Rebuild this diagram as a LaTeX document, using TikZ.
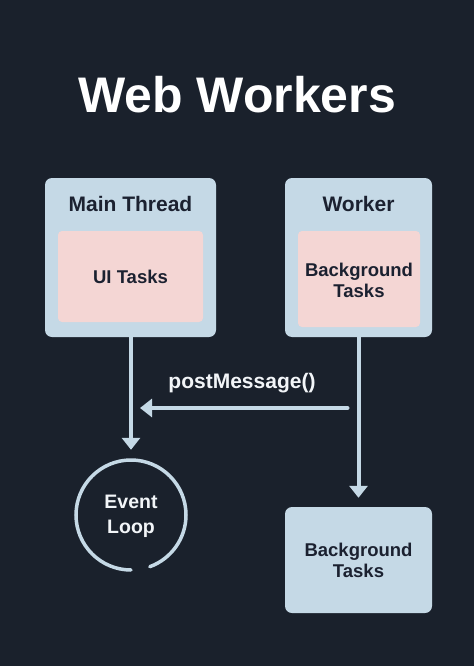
\documentclass[tikz,border=0pt]{standalone}
\usepackage{fontspec}
\setmainfont{Liberation Sans}
\usetikzlibrary{arrows.meta}
\definecolor{bgc}{HTML}{1A212C}
\definecolor{boxc}{HTML}{C5D9E6}
\definecolor{pinkc}{HTML}{F4D6D4}
\definecolor{darkt}{HTML}{1B2130}
\definecolor{lightt}{HTML}{F2F5F8}
\tikzset{
  outerbox/.style={fill=boxc, rounded corners=7pt, minimum width=#1, inner sep=0pt},
  innerbox/.style={fill=pinkc, rounded corners=4pt, inner sep=0pt},
  hdr/.style={text=darkt, font=\fontsize{21}{25}\selectfont\bfseries, inner sep=0pt},
  btxt/.style={text=darkt, font=\fontsize{18.5}{22}\selectfont\bfseries, align=center, inner sep=0pt},
  conn/.style={draw=boxc, line width=4pt, line cap=round, -{Triangle[width=18pt,length=12pt]}},
}
\begin{document}
\begin{tikzpicture}[x=1pt,y=-1pt]
\fill[bgc] (0,0) rectangle (474,666);
\useasboundingbox (0,0) rectangle (474,666);
% title
\node[text=white, font=\fontsize{50}{56}\selectfont\bfseries, inner sep=0pt] (title) at (237,95) {Web Workers};
% main thread
\node[outerbox=171pt, minimum height=159pt] (mainbox) at (130.5,257.5) {};
\node[hdr] (mainhdr) at (130.5,204) {Main Thread};
\node[innerbox, minimum width=145pt, minimum height=91pt] (uibox) at (130.5,276.5) {};
\node[btxt] (uitxt) at (130.5,276.5) {UI Tasks};
% worker
\node[outerbox=147pt, minimum height=159pt] (workbox) at (358.5,257.5) {};
\node[hdr] (workhdr) at (358.5,204) {Worker};
\node[innerbox, minimum width=122pt, minimum height=96pt] (bgbox) at (359,279) {};
\node[btxt] (bgtxt) at (359,280) {Background\\[-1pt]Tasks};
% bottom box
\node[outerbox=147pt, minimum height=106pt, btxt] (botbox) at (358.5,560) {Background\\[-1pt]Tasks};
% event loop
\coordinate (loopc) at (131,515);
\draw[boxc, line width=3.5pt, line cap=round] (loopc) ++(90:55) arc[start angle=90, end angle=430, radius=55];
\node[circle, minimum size=110pt, inner sep=0pt] (loop) at (loopc) {};
\node[text=lightt, font=\fontsize{19.5}{25}\selectfont\bfseries, align=center, inner sep=0pt] (looptxt) at (131,516) {Event\\Loop};
% connectors
\draw[conn, shorten >=10pt] (mainbox.south -| loopc) -- (loop.north);
\draw[conn, shorten >=9pt] (workbox.south) -- (botbox.north);
\coordinate (pmw) at (workbox.south |- 0,408);
\coordinate (pmm) at (loopc |- 0,408);
\draw[conn, shorten <=11pt, shorten >=9pt] (pmw) -- (pmm);
\node[text=lightt, font=\fontsize{21}{25}\selectfont\bfseries, inner sep=0pt] (pmlabel) at (242,383) {postMessage()};
\end{tikzpicture}
\end{document}
